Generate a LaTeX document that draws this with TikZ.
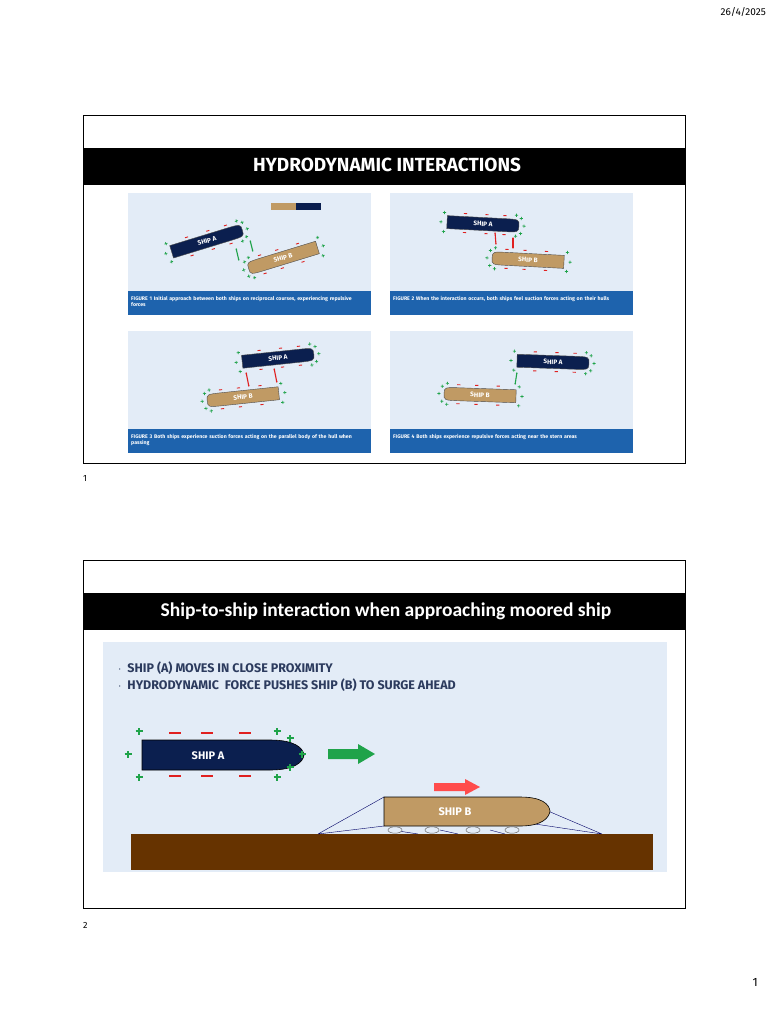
\documentclass[tikz,border=0pt]{standalone}
\usepackage{fontspec}
\setmainfont{Fira Sans}
\newfontfamily\calfont{Carlito}
\usetikzlibrary{arrows.meta}
\definecolor{navy}{HTML}{0B1F4F}
\definecolor{tan}{HTML}{C09A64}
\definecolor{panelbg}{HTML}{E3ECF7}
\definecolor{capblue}{HTML}{1E63AD}
\definecolor{pgreen}{HTML}{1FA34A}
\definecolor{pred}{HTML}{E02020}
\definecolor{ground}{HTML}{663300}
\definecolor{bultext}{HTML}{2C3B5E}
\tikzset{
  shiplabel/.style={text=white,font=\fontsize{6.5}{7}\selectfont\bfseries,inner sep=0pt},
  caption/.style={text=white,font=\fontsize{5.2}{6.4}\selectfont\bfseries,anchor=north west,text width=232pt,align=left,inner sep=0pt},
  band/.style={fill=black},
  frame/.style={draw=black,line width=0.8pt,fill=white},
  force/.style={line width=1.1pt,{Stealth[length=2pt]}-{Stealth[length=2pt]}},
}
\newcommand\pl[3][1.6]{\draw[pgreen,line width=0.7pt] ({#2-#1},#3) -- ({#2+#1},#3) (#2,{#3-#1}) -- (#2,{#3+#1});}
\newcommand\mn[3][1.6]{\draw[pred,line width=0.9pt] ({#2-#1},#3) -- ({#2+#1},#3);}
\newcommand\plB[2]{\draw[pgreen,line width=1.6pt] ({#1-3.5},#2) -- ({#1+3.5},#2) (#1,{#2-3.5}) -- (#1,{#2+3.5});}
\newcommand\mnB[2]{\draw[pred,line width=2.2pt] ({#1-6},#2) -- ({#1+6},#2);}
\newcommand\drawship[9]{%
\begin{scope}[shift={(#2,#3)},rotate=#4]
 \begin{scope}[xscale=#9]
  \draw[fill=#7,draw=black!70,line width=0.4pt] (-#5/2,-#6/2) -- ({#5/2-1.3*#6},-#6/2) .. controls (#5/2,-#6/2) .. (#5/2,0) .. controls (#5/2,#6/2) .. ({#5/2-1.3*#6},#6/2) -- (-#5/2,#6/2) -- cycle;
  \foreach \u in {-0.25,0.05,0.3}{\mn{\u*#5}{#6/2+3}\mn{\u*#5}{-#6/2-3}}
  \pl{-#5/2-3}{#6/2+3}\pl{-#5/2-3}{-#6/2-3}\pl{-#5/2-6}{0}
  \pl{#5/2-3}{#6/2+4}\pl{#5/2-3}{-#6/2-4}\pl{#5/2+2}{#6/2+1}\pl{#5/2+2}{-#6/2-1}\pl{#5/2+5}{0}
 \end{scope}
 \node[shiplabel,transform shape] (#1) at (0,0) {#8};
\end{scope}}
\begin{document}
\begin{tikzpicture}[x=1pt,y=1pt]
\useasboundingbox (0,-1024) rectangle (768,0);
\fill[white] (0,-1024) rectangle (768,0);
\node[anchor=north east,font=\fontsize{10}{12}\selectfont,inner sep=0pt] (date) at (766,-7) {26/4/2025};
% slide 1
\draw[frame] (83,-115) rectangle (685,-463);
\fill[band] (83,-148) rectangle (685,-185);
\node[text=white,font=\fontsize{19}{21}\selectfont\bfseries] (t1) at (387,-165) {HYDRODYNAMIC INTERACTIONS};
\foreach \x/\y in {128/193,390/193,128/331,390/331}{
  \fill[panelbg] (\x,-\y) rectangle (\x+243,-\y-122);
  \fill[capblue] (\x,-\y-98) rectangle (\x+243,-\y-122);
}
\fill[tan] (271,-203) rectangle (296,-210);
\fill[navy] (296,-203) rectangle (321,-210);
\drawship{s1a}{207}{-241}{17}{74}{13}{navy}{SHIP A}{1}
\drawship{s1b}{283}{-258}{17}{72}{13}{tan}{SHIP B}{-1}
\draw[force,pgreen] (236,-248) -- (239,-261);
\draw[force,pgreen] (250,-240) -- (253,-252);
\node[caption] (c1) at (131,-296) {FIGURE 1 Initial approach between both ships on reciprocal courses, experiencing repulsive forces};
\drawship{s2a}{483}{-224}{-3}{72}{13}{navy}{SHIP A}{1}
\drawship{s2b}{528}{-260}{-3}{72}{13}{tan}{SHIP B}{-1}
\draw[force,pred] (495,-232) -- (496,-245);
\draw[force,pred] (513,-237) -- (513,-249);
\node[caption] (c2) at (393,-296) {FIGURE 2 When the interaction occurs, both ships feel suction forces acting on their hulls};
\drawship{s3a}{278}{-358}{6}{72}{13}{navy}{SHIP A}{1}
\drawship{s3b}{243}{-397}{6}{72}{13}{tan}{SHIP B}{-1}
\draw[force,pred] (246,-372) -- (249,-387);
\draw[force,pred] (274,-368) -- (277,-383);
\node[caption] (c3) at (131,-434) {FIGURE 3 Both ships experience suction forces acting on the parallel body of the hull when passing};
\drawship{s4a}{553}{-362}{-2}{72}{13}{navy}{SHIP A}{1}
\drawship{s4b}{480}{-395}{-2}{72}{13}{tan}{SHIP B}{-1}
\draw[force,pgreen] (517,-372) -- (515,-385);
\node[caption] (c4) at (393,-434) {FIGURE 4 Both ships experience repulsive forces acting near the stern areas};
\node[anchor=west,font=\fontsize{9}{10}\selectfont,inner sep=0pt] (n1) at (83,-478) {1};
% slide 2
\draw[frame] (83,-560) rectangle (685,-908);
\fill[band] (83,-593) rectangle (685,-630);
\node[text=white,font=\calfont\fontsize{19.5}{21}\selectfont\bfseries] (t2) at (386,-611) {Ship-to-ship interaction when approaching moored ship};
\fill[panelbg] (103,-642) rectangle (667,-872);
\node[anchor=west,text=bultext,font=\fontsize{12.5}{14}\selectfont\bfseries,inner sep=0pt] (b1) at (118,-668) {$\cdot$\ \ SHIP (A) MOVES IN CLOSE PROXIMITY};
\node[anchor=west,text=bultext,font=\fontsize{12.5}{14}\selectfont\bfseries,inner sep=0pt] (b2) at (118,-685) {$\cdot$\ \ HYDRODYNAMIC\ \ FORCE PUSHES SHIP (B) TO SURGE AHEAD};
\fill[ground] (131,-834) rectangle (653,-870);
% ship A
\draw[fill=navy,draw=black,line width=0.6pt] (142,-740) -- (270,-740) .. controls (295,-740) and (303,-748) .. (304,-755) .. controls (303,-762) and (295,-770) .. (270,-770) -- (142,-770) -- cycle;
\node[text=white,font=\fontsize{11}{12}\selectfont\bfseries] (sa) at (208,-756) {SHIP A};
\foreach \x in {175,207,245}{\mnB{\x}{-733}\mnB{\x}{-776}}
\foreach \x/\y in {139/-731,277/-731,290/-738,302/-754,290/-767,277/-777,139/-777,128/-754}{\plB{\x}{\y}}
\fill[pgreen] (328,-749) -- (358,-749) -- (358,-744) -- (375,-754) -- (358,-764) -- (358,-759) -- (328,-759) -- cycle;
% ship B
\draw[line width=0.4pt,draw=black!60!blue] (318,-834) -- (384,-797) (318,-834) -- (384,-826) (548,-811) -- (602,-834) (535,-824) -- (602,-834)
  (392,-830) -- (418,-834) (440,-830) -- (458,-834) (490,-830) -- (505,-834);
\draw[fill=tan,draw=black,line width=0.6pt] (384,-797) -- (520,-797) .. controls (542,-797) and (549,-804) .. (550,-811) .. controls (549,-818) and (542,-826) .. (520,-826) -- (384,-826) -- cycle;
\node[text=white,font=\fontsize{11}{12}\selectfont\bfseries] (sb) at (455,-812) {SHIP B};
\foreach \x in {395,432,473,512}{\draw[fill=panelbg,draw=black!60,line width=0.5pt] (\x,-830) ellipse (7 and 3.2);}
\fill[red!60!pink] (434,-783) -- (465,-783) -- (465,-779) -- (480,-787) -- (465,-795) -- (465,-791) -- (434,-791) -- cycle;
\node[anchor=west,font=\fontsize{9}{10}\selectfont,inner sep=0pt] (n2) at (83,-925) {2};
\node[anchor=east,font=\fontsize{12}{14}\selectfont,inner sep=0pt] (n3) at (758,-982) {1};
\end{tikzpicture}
\end{document}
